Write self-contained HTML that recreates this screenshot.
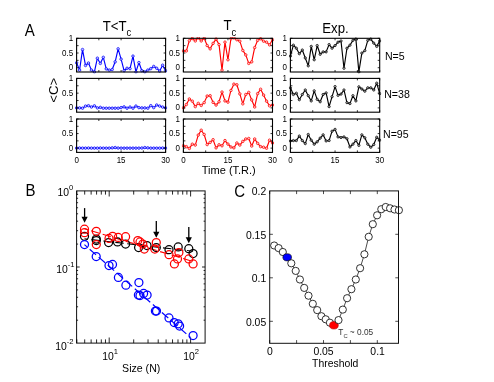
<!DOCTYPE html>
<html><head><meta charset="utf-8"><title>Figure</title>
<style>html,body{margin:0;padding:0;background:#fff}svg{display:block}</style></head>
<body>
<svg width="494" height="382" viewBox="0 0 494 382" font-family="'Liberation Sans', sans-serif" fill="#000">
<rect width="494" height="382" fill="#fff"/>
<clipPath id="c00"><rect x="75.00" y="37.00" width="92.20" height="36.50"/></clipPath>
<g clip-path="url(#c00)">
<polyline points="76.60,62.81 79.57,70.10 82.53,49.56 85.50,65.48 88.47,63.05 91.43,70.10 94.40,71.92 97.37,58.19 100.33,63.41 103.30,57.34 106.27,68.88 109.23,70.10 112.20,69.49 115.17,61.83 118.13,48.83 121.10,59.16 124.07,70.70 127.03,68.27 130.00,68.64 132.97,56.12 135.93,71.92 138.90,62.56 141.87,70.70 144.83,71.92 147.80,70.10 150.77,68.64 153.73,66.45 156.70,68.27 159.67,71.07 162.63,65.24 165.60,70.70" fill="none" stroke="#0000ff" stroke-width="1.15" stroke-linejoin="round"/>
<circle cx="76.60" cy="62.81" r="1.25" fill="#fff" fill-opacity="0.7" stroke="#0000ff" stroke-width="0.8"/>
<circle cx="79.57" cy="70.10" r="1.25" fill="#fff" fill-opacity="0.7" stroke="#0000ff" stroke-width="0.8"/>
<circle cx="82.53" cy="49.56" r="1.25" fill="#fff" fill-opacity="0.7" stroke="#0000ff" stroke-width="0.8"/>
<circle cx="85.50" cy="65.48" r="1.25" fill="#fff" fill-opacity="0.7" stroke="#0000ff" stroke-width="0.8"/>
<circle cx="88.47" cy="63.05" r="1.25" fill="#fff" fill-opacity="0.7" stroke="#0000ff" stroke-width="0.8"/>
<circle cx="91.43" cy="70.10" r="1.25" fill="#fff" fill-opacity="0.7" stroke="#0000ff" stroke-width="0.8"/>
<circle cx="94.40" cy="71.92" r="1.25" fill="#fff" fill-opacity="0.7" stroke="#0000ff" stroke-width="0.8"/>
<circle cx="97.37" cy="58.19" r="1.25" fill="#fff" fill-opacity="0.7" stroke="#0000ff" stroke-width="0.8"/>
<circle cx="100.33" cy="63.41" r="1.25" fill="#fff" fill-opacity="0.7" stroke="#0000ff" stroke-width="0.8"/>
<circle cx="103.30" cy="57.34" r="1.25" fill="#fff" fill-opacity="0.7" stroke="#0000ff" stroke-width="0.8"/>
<circle cx="106.27" cy="68.88" r="1.25" fill="#fff" fill-opacity="0.7" stroke="#0000ff" stroke-width="0.8"/>
<circle cx="109.23" cy="70.10" r="1.25" fill="#fff" fill-opacity="0.7" stroke="#0000ff" stroke-width="0.8"/>
<circle cx="112.20" cy="69.49" r="1.25" fill="#fff" fill-opacity="0.7" stroke="#0000ff" stroke-width="0.8"/>
<circle cx="115.17" cy="61.83" r="1.25" fill="#fff" fill-opacity="0.7" stroke="#0000ff" stroke-width="0.8"/>
<circle cx="118.13" cy="48.83" r="1.25" fill="#fff" fill-opacity="0.7" stroke="#0000ff" stroke-width="0.8"/>
<circle cx="121.10" cy="59.16" r="1.25" fill="#fff" fill-opacity="0.7" stroke="#0000ff" stroke-width="0.8"/>
<circle cx="124.07" cy="70.70" r="1.25" fill="#fff" fill-opacity="0.7" stroke="#0000ff" stroke-width="0.8"/>
<circle cx="127.03" cy="68.27" r="1.25" fill="#fff" fill-opacity="0.7" stroke="#0000ff" stroke-width="0.8"/>
<circle cx="130.00" cy="68.64" r="1.25" fill="#fff" fill-opacity="0.7" stroke="#0000ff" stroke-width="0.8"/>
<circle cx="132.97" cy="56.12" r="1.25" fill="#fff" fill-opacity="0.7" stroke="#0000ff" stroke-width="0.8"/>
<circle cx="135.93" cy="71.92" r="1.25" fill="#fff" fill-opacity="0.7" stroke="#0000ff" stroke-width="0.8"/>
<circle cx="138.90" cy="62.56" r="1.25" fill="#fff" fill-opacity="0.7" stroke="#0000ff" stroke-width="0.8"/>
<circle cx="141.87" cy="70.70" r="1.25" fill="#fff" fill-opacity="0.7" stroke="#0000ff" stroke-width="0.8"/>
<circle cx="144.83" cy="71.92" r="1.25" fill="#fff" fill-opacity="0.7" stroke="#0000ff" stroke-width="0.8"/>
<circle cx="147.80" cy="70.10" r="1.25" fill="#fff" fill-opacity="0.7" stroke="#0000ff" stroke-width="0.8"/>
<circle cx="150.77" cy="68.64" r="1.25" fill="#fff" fill-opacity="0.7" stroke="#0000ff" stroke-width="0.8"/>
<circle cx="153.73" cy="66.45" r="1.25" fill="#fff" fill-opacity="0.7" stroke="#0000ff" stroke-width="0.8"/>
<circle cx="156.70" cy="68.27" r="1.25" fill="#fff" fill-opacity="0.7" stroke="#0000ff" stroke-width="0.8"/>
<circle cx="159.67" cy="71.07" r="1.25" fill="#fff" fill-opacity="0.7" stroke="#0000ff" stroke-width="0.8"/>
<circle cx="162.63" cy="65.24" r="1.25" fill="#fff" fill-opacity="0.7" stroke="#0000ff" stroke-width="0.8"/>
<circle cx="165.60" cy="70.70" r="1.25" fill="#fff" fill-opacity="0.7" stroke="#0000ff" stroke-width="0.8"/>
</g>
<rect x="76.60" y="38.30" width="89.00" height="33.70" fill="none" stroke="#000" stroke-width="1.1"/>
<path d="M76.60,72.00v-2.0M76.60,38.30v2.0M98.85,72.00v-2.0M98.85,38.30v2.0M121.10,72.00v-2.0M121.10,38.30v2.0M143.35,72.00v-2.0M143.35,38.30v2.0M165.60,72.00v-2.0M165.60,38.30v2.0M76.60,67.71h2.0M165.60,67.71h-2.0M76.60,60.35h2.0M165.60,60.35h-2.0M76.60,53.00h2.0M165.60,53.00h-2.0M76.60,45.65h2.0M165.60,45.65h-2.0M76.60,38.30h2.0M165.60,38.30h-2.0" stroke="#000" stroke-width="0.8" fill="none"/>
<text transform="translate(73.20,70.31) scale(1,1.12)" font-size="8.0" text-anchor="end">0</text>
<text transform="translate(73.20,55.60) scale(1,1.12)" font-size="8.0" text-anchor="end">0.5</text>
<text transform="translate(73.20,40.90) scale(1,1.12)" font-size="8.0" text-anchor="end">1</text>
<clipPath id="c01"><rect x="181.80" y="37.00" width="92.30" height="36.50"/></clipPath>
<g clip-path="url(#c01)">
<polyline points="183.40,50.90 186.37,50.90 189.34,40.69 192.31,38.51 195.28,40.94 198.25,37.90 201.22,40.94 204.19,38.26 207.16,45.55 210.13,48.83 213.10,43.37 216.07,39.11 219.04,44.58 222.01,70.10 224.98,42.15 227.95,59.77 230.92,38.75 233.89,37.90 236.86,39.72 239.83,41.18 242.80,50.41 245.77,54.91 248.74,63.41 251.71,61.83 254.68,47.62 257.65,40.33 260.62,38.75 263.59,41.18 266.56,42.15 269.53,44.82 272.50,39.72" fill="none" stroke="#ff0000" stroke-width="1.15" stroke-linejoin="round"/>
<circle cx="183.40" cy="50.90" r="1.25" fill="#fff" fill-opacity="0.7" stroke="#ff0000" stroke-width="0.8"/>
<circle cx="186.37" cy="50.90" r="1.25" fill="#fff" fill-opacity="0.7" stroke="#ff0000" stroke-width="0.8"/>
<circle cx="189.34" cy="40.69" r="1.25" fill="#fff" fill-opacity="0.7" stroke="#ff0000" stroke-width="0.8"/>
<circle cx="192.31" cy="38.51" r="1.25" fill="#fff" fill-opacity="0.7" stroke="#ff0000" stroke-width="0.8"/>
<circle cx="195.28" cy="40.94" r="1.25" fill="#fff" fill-opacity="0.7" stroke="#ff0000" stroke-width="0.8"/>
<circle cx="198.25" cy="37.90" r="1.25" fill="#fff" fill-opacity="0.7" stroke="#ff0000" stroke-width="0.8"/>
<circle cx="201.22" cy="40.94" r="1.25" fill="#fff" fill-opacity="0.7" stroke="#ff0000" stroke-width="0.8"/>
<circle cx="204.19" cy="38.26" r="1.25" fill="#fff" fill-opacity="0.7" stroke="#ff0000" stroke-width="0.8"/>
<circle cx="207.16" cy="45.55" r="1.25" fill="#fff" fill-opacity="0.7" stroke="#ff0000" stroke-width="0.8"/>
<circle cx="210.13" cy="48.83" r="1.25" fill="#fff" fill-opacity="0.7" stroke="#ff0000" stroke-width="0.8"/>
<circle cx="213.10" cy="43.37" r="1.25" fill="#fff" fill-opacity="0.7" stroke="#ff0000" stroke-width="0.8"/>
<circle cx="216.07" cy="39.11" r="1.25" fill="#fff" fill-opacity="0.7" stroke="#ff0000" stroke-width="0.8"/>
<circle cx="219.04" cy="44.58" r="1.25" fill="#fff" fill-opacity="0.7" stroke="#ff0000" stroke-width="0.8"/>
<circle cx="222.01" cy="70.10" r="1.25" fill="#fff" fill-opacity="0.7" stroke="#ff0000" stroke-width="0.8"/>
<circle cx="224.98" cy="42.15" r="1.25" fill="#fff" fill-opacity="0.7" stroke="#ff0000" stroke-width="0.8"/>
<circle cx="227.95" cy="59.77" r="1.25" fill="#fff" fill-opacity="0.7" stroke="#ff0000" stroke-width="0.8"/>
<circle cx="230.92" cy="38.75" r="1.25" fill="#fff" fill-opacity="0.7" stroke="#ff0000" stroke-width="0.8"/>
<circle cx="233.89" cy="37.90" r="1.25" fill="#fff" fill-opacity="0.7" stroke="#ff0000" stroke-width="0.8"/>
<circle cx="236.86" cy="39.72" r="1.25" fill="#fff" fill-opacity="0.7" stroke="#ff0000" stroke-width="0.8"/>
<circle cx="239.83" cy="41.18" r="1.25" fill="#fff" fill-opacity="0.7" stroke="#ff0000" stroke-width="0.8"/>
<circle cx="242.80" cy="50.41" r="1.25" fill="#fff" fill-opacity="0.7" stroke="#ff0000" stroke-width="0.8"/>
<circle cx="245.77" cy="54.91" r="1.25" fill="#fff" fill-opacity="0.7" stroke="#ff0000" stroke-width="0.8"/>
<circle cx="248.74" cy="63.41" r="1.25" fill="#fff" fill-opacity="0.7" stroke="#ff0000" stroke-width="0.8"/>
<circle cx="251.71" cy="61.83" r="1.25" fill="#fff" fill-opacity="0.7" stroke="#ff0000" stroke-width="0.8"/>
<circle cx="254.68" cy="47.62" r="1.25" fill="#fff" fill-opacity="0.7" stroke="#ff0000" stroke-width="0.8"/>
<circle cx="257.65" cy="40.33" r="1.25" fill="#fff" fill-opacity="0.7" stroke="#ff0000" stroke-width="0.8"/>
<circle cx="260.62" cy="38.75" r="1.25" fill="#fff" fill-opacity="0.7" stroke="#ff0000" stroke-width="0.8"/>
<circle cx="263.59" cy="41.18" r="1.25" fill="#fff" fill-opacity="0.7" stroke="#ff0000" stroke-width="0.8"/>
<circle cx="266.56" cy="42.15" r="1.25" fill="#fff" fill-opacity="0.7" stroke="#ff0000" stroke-width="0.8"/>
<circle cx="269.53" cy="44.82" r="1.25" fill="#fff" fill-opacity="0.7" stroke="#ff0000" stroke-width="0.8"/>
<circle cx="272.50" cy="39.72" r="1.25" fill="#fff" fill-opacity="0.7" stroke="#ff0000" stroke-width="0.8"/>
</g>
<rect x="183.40" y="38.30" width="89.10" height="33.70" fill="none" stroke="#000" stroke-width="1.1"/>
<path d="M183.40,72.00v-2.0M183.40,38.30v2.0M205.68,72.00v-2.0M205.68,38.30v2.0M227.95,72.00v-2.0M227.95,38.30v2.0M250.22,72.00v-2.0M250.22,38.30v2.0M272.50,72.00v-2.0M272.50,38.30v2.0M183.40,67.71h2.0M272.50,67.71h-2.0M183.40,60.35h2.0M272.50,60.35h-2.0M183.40,53.00h2.0M272.50,53.00h-2.0M183.40,45.65h2.0M272.50,45.65h-2.0M183.40,38.30h2.0M272.50,38.30h-2.0" stroke="#000" stroke-width="0.8" fill="none"/>
<text transform="translate(180.00,70.31) scale(1,1.12)" font-size="8.0" text-anchor="end">0</text>
<text transform="translate(180.00,55.60) scale(1,1.12)" font-size="8.0" text-anchor="end">0.5</text>
<text transform="translate(180.00,40.90) scale(1,1.12)" font-size="8.0" text-anchor="end">1</text>
<clipPath id="c02"><rect x="288.80" y="37.00" width="92.50" height="36.50"/></clipPath>
<g clip-path="url(#c02)">
<polyline points="290.40,56.12 293.38,45.19 296.35,48.23 299.33,53.69 302.31,50.05 305.28,57.95 308.26,65.84 311.24,46.40 314.21,59.77 317.19,45.55 320.17,54.30 323.14,51.87 326.12,51.87 329.10,44.58 332.07,48.23 335.05,45.55 338.03,42.15 341.00,40.94 343.98,68.27 346.96,48.23 349.93,45.19 352.91,40.33 355.89,39.11 358.86,71.92 361.84,53.09 364.82,50.66 367.79,40.33 370.77,39.11 373.75,43.12 376.72,46.40 379.70,40.94" fill="none" stroke="#000000" stroke-width="1.15" stroke-linejoin="round"/>
<circle cx="290.40" cy="56.12" r="1.15" fill="#fff" fill-opacity="0.55" stroke="#000000" stroke-width="0.8"/>
<circle cx="293.38" cy="45.19" r="1.15" fill="#fff" fill-opacity="0.55" stroke="#000000" stroke-width="0.8"/>
<circle cx="296.35" cy="48.23" r="1.15" fill="#fff" fill-opacity="0.55" stroke="#000000" stroke-width="0.8"/>
<circle cx="299.33" cy="53.69" r="1.15" fill="#fff" fill-opacity="0.55" stroke="#000000" stroke-width="0.8"/>
<circle cx="302.31" cy="50.05" r="1.15" fill="#fff" fill-opacity="0.55" stroke="#000000" stroke-width="0.8"/>
<circle cx="305.28" cy="57.95" r="1.15" fill="#fff" fill-opacity="0.55" stroke="#000000" stroke-width="0.8"/>
<circle cx="308.26" cy="65.84" r="1.15" fill="#fff" fill-opacity="0.55" stroke="#000000" stroke-width="0.8"/>
<circle cx="311.24" cy="46.40" r="1.15" fill="#fff" fill-opacity="0.55" stroke="#000000" stroke-width="0.8"/>
<circle cx="314.21" cy="59.77" r="1.15" fill="#fff" fill-opacity="0.55" stroke="#000000" stroke-width="0.8"/>
<circle cx="317.19" cy="45.55" r="1.15" fill="#fff" fill-opacity="0.55" stroke="#000000" stroke-width="0.8"/>
<circle cx="320.17" cy="54.30" r="1.15" fill="#fff" fill-opacity="0.55" stroke="#000000" stroke-width="0.8"/>
<circle cx="323.14" cy="51.87" r="1.15" fill="#fff" fill-opacity="0.55" stroke="#000000" stroke-width="0.8"/>
<circle cx="326.12" cy="51.87" r="1.15" fill="#fff" fill-opacity="0.55" stroke="#000000" stroke-width="0.8"/>
<circle cx="329.10" cy="44.58" r="1.15" fill="#fff" fill-opacity="0.55" stroke="#000000" stroke-width="0.8"/>
<circle cx="332.07" cy="48.23" r="1.15" fill="#fff" fill-opacity="0.55" stroke="#000000" stroke-width="0.8"/>
<circle cx="335.05" cy="45.55" r="1.15" fill="#fff" fill-opacity="0.55" stroke="#000000" stroke-width="0.8"/>
<circle cx="338.03" cy="42.15" r="1.15" fill="#fff" fill-opacity="0.55" stroke="#000000" stroke-width="0.8"/>
<circle cx="341.00" cy="40.94" r="1.15" fill="#fff" fill-opacity="0.55" stroke="#000000" stroke-width="0.8"/>
<circle cx="343.98" cy="68.27" r="1.15" fill="#fff" fill-opacity="0.55" stroke="#000000" stroke-width="0.8"/>
<circle cx="346.96" cy="48.23" r="1.15" fill="#fff" fill-opacity="0.55" stroke="#000000" stroke-width="0.8"/>
<circle cx="349.93" cy="45.19" r="1.15" fill="#fff" fill-opacity="0.55" stroke="#000000" stroke-width="0.8"/>
<circle cx="352.91" cy="40.33" r="1.15" fill="#fff" fill-opacity="0.55" stroke="#000000" stroke-width="0.8"/>
<circle cx="355.89" cy="39.11" r="1.15" fill="#fff" fill-opacity="0.55" stroke="#000000" stroke-width="0.8"/>
<circle cx="358.86" cy="71.92" r="1.15" fill="#fff" fill-opacity="0.55" stroke="#000000" stroke-width="0.8"/>
<circle cx="361.84" cy="53.09" r="1.15" fill="#fff" fill-opacity="0.55" stroke="#000000" stroke-width="0.8"/>
<circle cx="364.82" cy="50.66" r="1.15" fill="#fff" fill-opacity="0.55" stroke="#000000" stroke-width="0.8"/>
<circle cx="367.79" cy="40.33" r="1.15" fill="#fff" fill-opacity="0.55" stroke="#000000" stroke-width="0.8"/>
<circle cx="370.77" cy="39.11" r="1.15" fill="#fff" fill-opacity="0.55" stroke="#000000" stroke-width="0.8"/>
<circle cx="373.75" cy="43.12" r="1.15" fill="#fff" fill-opacity="0.55" stroke="#000000" stroke-width="0.8"/>
<circle cx="376.72" cy="46.40" r="1.15" fill="#fff" fill-opacity="0.55" stroke="#000000" stroke-width="0.8"/>
<circle cx="379.70" cy="40.94" r="1.15" fill="#fff" fill-opacity="0.55" stroke="#000000" stroke-width="0.8"/>
</g>
<rect x="290.40" y="38.30" width="89.30" height="33.70" fill="none" stroke="#000" stroke-width="1.1"/>
<path d="M290.40,72.00v-2.0M290.40,38.30v2.0M312.72,72.00v-2.0M312.72,38.30v2.0M335.05,72.00v-2.0M335.05,38.30v2.0M357.38,72.00v-2.0M357.38,38.30v2.0M379.70,72.00v-2.0M379.70,38.30v2.0M290.40,67.71h2.0M379.70,67.71h-2.0M290.40,60.35h2.0M379.70,60.35h-2.0M290.40,53.00h2.0M379.70,53.00h-2.0M290.40,45.65h2.0M379.70,45.65h-2.0M290.40,38.30h2.0M379.70,38.30h-2.0" stroke="#000" stroke-width="0.8" fill="none"/>
<text transform="translate(287.00,70.31) scale(1,1.12)" font-size="8.0" text-anchor="end">0</text>
<text transform="translate(287.00,55.60) scale(1,1.12)" font-size="8.0" text-anchor="end">0.5</text>
<text transform="translate(287.00,40.90) scale(1,1.12)" font-size="8.0" text-anchor="end">1</text>
<clipPath id="c10"><rect x="75.00" y="77.10" width="92.20" height="36.60"/></clipPath>
<g clip-path="url(#c10)">
<polyline points="76.60,107.89 79.57,107.89 82.53,108.19 85.50,106.13 88.47,105.69 91.43,107.01 94.40,105.84 97.37,107.89 100.33,107.39 103.30,108.19 106.27,108.19 109.23,108.19 112.20,108.19 115.17,108.19 118.13,108.19 121.10,107.60 124.07,106.89 127.03,108.19 130.00,107.07 132.97,108.19 135.93,106.07 138.90,107.60 141.87,107.89 144.83,107.89 147.80,108.19 150.77,105.66 153.73,107.60 156.70,105.04 159.67,106.07 162.63,107.07 165.60,107.89" fill="none" stroke="#0000ff" stroke-width="1.15" stroke-linejoin="round"/>
<circle cx="76.60" cy="107.89" r="1.25" fill="#fff" fill-opacity="0.7" stroke="#0000ff" stroke-width="0.8"/>
<circle cx="79.57" cy="107.89" r="1.25" fill="#fff" fill-opacity="0.7" stroke="#0000ff" stroke-width="0.8"/>
<circle cx="82.53" cy="108.19" r="1.25" fill="#fff" fill-opacity="0.7" stroke="#0000ff" stroke-width="0.8"/>
<circle cx="85.50" cy="106.13" r="1.25" fill="#fff" fill-opacity="0.7" stroke="#0000ff" stroke-width="0.8"/>
<circle cx="88.47" cy="105.69" r="1.25" fill="#fff" fill-opacity="0.7" stroke="#0000ff" stroke-width="0.8"/>
<circle cx="91.43" cy="107.01" r="1.25" fill="#fff" fill-opacity="0.7" stroke="#0000ff" stroke-width="0.8"/>
<circle cx="94.40" cy="105.84" r="1.25" fill="#fff" fill-opacity="0.7" stroke="#0000ff" stroke-width="0.8"/>
<circle cx="97.37" cy="107.89" r="1.25" fill="#fff" fill-opacity="0.7" stroke="#0000ff" stroke-width="0.8"/>
<circle cx="100.33" cy="107.39" r="1.25" fill="#fff" fill-opacity="0.7" stroke="#0000ff" stroke-width="0.8"/>
<circle cx="103.30" cy="108.19" r="1.25" fill="#fff" fill-opacity="0.7" stroke="#0000ff" stroke-width="0.8"/>
<circle cx="106.27" cy="108.19" r="1.25" fill="#fff" fill-opacity="0.7" stroke="#0000ff" stroke-width="0.8"/>
<circle cx="109.23" cy="108.19" r="1.25" fill="#fff" fill-opacity="0.7" stroke="#0000ff" stroke-width="0.8"/>
<circle cx="112.20" cy="108.19" r="1.25" fill="#fff" fill-opacity="0.7" stroke="#0000ff" stroke-width="0.8"/>
<circle cx="115.17" cy="108.19" r="1.25" fill="#fff" fill-opacity="0.7" stroke="#0000ff" stroke-width="0.8"/>
<circle cx="118.13" cy="108.19" r="1.25" fill="#fff" fill-opacity="0.7" stroke="#0000ff" stroke-width="0.8"/>
<circle cx="121.10" cy="107.60" r="1.25" fill="#fff" fill-opacity="0.7" stroke="#0000ff" stroke-width="0.8"/>
<circle cx="124.07" cy="106.89" r="1.25" fill="#fff" fill-opacity="0.7" stroke="#0000ff" stroke-width="0.8"/>
<circle cx="127.03" cy="108.19" r="1.25" fill="#fff" fill-opacity="0.7" stroke="#0000ff" stroke-width="0.8"/>
<circle cx="130.00" cy="107.07" r="1.25" fill="#fff" fill-opacity="0.7" stroke="#0000ff" stroke-width="0.8"/>
<circle cx="132.97" cy="108.19" r="1.25" fill="#fff" fill-opacity="0.7" stroke="#0000ff" stroke-width="0.8"/>
<circle cx="135.93" cy="106.07" r="1.25" fill="#fff" fill-opacity="0.7" stroke="#0000ff" stroke-width="0.8"/>
<circle cx="138.90" cy="107.60" r="1.25" fill="#fff" fill-opacity="0.7" stroke="#0000ff" stroke-width="0.8"/>
<circle cx="141.87" cy="107.89" r="1.25" fill="#fff" fill-opacity="0.7" stroke="#0000ff" stroke-width="0.8"/>
<circle cx="144.83" cy="107.89" r="1.25" fill="#fff" fill-opacity="0.7" stroke="#0000ff" stroke-width="0.8"/>
<circle cx="147.80" cy="108.19" r="1.25" fill="#fff" fill-opacity="0.7" stroke="#0000ff" stroke-width="0.8"/>
<circle cx="150.77" cy="105.66" r="1.25" fill="#fff" fill-opacity="0.7" stroke="#0000ff" stroke-width="0.8"/>
<circle cx="153.73" cy="107.60" r="1.25" fill="#fff" fill-opacity="0.7" stroke="#0000ff" stroke-width="0.8"/>
<circle cx="156.70" cy="105.04" r="1.25" fill="#fff" fill-opacity="0.7" stroke="#0000ff" stroke-width="0.8"/>
<circle cx="159.67" cy="106.07" r="1.25" fill="#fff" fill-opacity="0.7" stroke="#0000ff" stroke-width="0.8"/>
<circle cx="162.63" cy="107.07" r="1.25" fill="#fff" fill-opacity="0.7" stroke="#0000ff" stroke-width="0.8"/>
<circle cx="165.60" cy="107.89" r="1.25" fill="#fff" fill-opacity="0.7" stroke="#0000ff" stroke-width="0.8"/>
</g>
<rect x="76.60" y="78.40" width="89.00" height="33.80" fill="none" stroke="#000" stroke-width="1.1"/>
<path d="M76.60,112.20v-2.0M76.60,78.40v2.0M98.85,112.20v-2.0M98.85,78.40v2.0M121.10,112.20v-2.0M121.10,78.40v2.0M143.35,112.20v-2.0M143.35,78.40v2.0M165.60,112.20v-2.0M165.60,78.40v2.0M76.60,107.89h2.0M165.60,107.89h-2.0M76.60,100.52h2.0M165.60,100.52h-2.0M76.60,93.15h2.0M165.60,93.15h-2.0M76.60,85.77h2.0M165.60,85.77h-2.0M76.60,78.40h2.0M165.60,78.40h-2.0" stroke="#000" stroke-width="0.8" fill="none"/>
<text transform="translate(73.20,110.49) scale(1,1.12)" font-size="8.0" text-anchor="end">0</text>
<text transform="translate(73.20,95.75) scale(1,1.12)" font-size="8.0" text-anchor="end">0.5</text>
<text transform="translate(73.20,81.00) scale(1,1.12)" font-size="8.0" text-anchor="end">1</text>
<clipPath id="c11"><rect x="181.80" y="77.10" width="92.30" height="36.60"/></clipPath>
<g clip-path="url(#c11)">
<polyline points="183.40,107.84 186.37,104.56 189.34,98.97 192.31,101.16 195.28,106.63 198.25,103.35 201.22,105.41 204.19,102.62 207.16,96.06 210.13,95.69 213.10,102.38 216.07,105.05 219.04,101.77 222.01,92.05 224.98,100.92 227.95,102.13 230.92,90.47 233.89,84.15 236.86,84.76 239.83,93.87 242.80,103.83 245.77,94.48 248.74,92.41 251.71,99.95 254.68,106.99 257.65,93.63 260.62,89.25 263.59,95.09 266.56,101.16 269.53,105.78 272.50,105.05" fill="none" stroke="#ff0000" stroke-width="1.15" stroke-linejoin="round"/>
<circle cx="183.40" cy="107.84" r="1.25" fill="#fff" fill-opacity="0.7" stroke="#ff0000" stroke-width="0.8"/>
<circle cx="186.37" cy="104.56" r="1.25" fill="#fff" fill-opacity="0.7" stroke="#ff0000" stroke-width="0.8"/>
<circle cx="189.34" cy="98.97" r="1.25" fill="#fff" fill-opacity="0.7" stroke="#ff0000" stroke-width="0.8"/>
<circle cx="192.31" cy="101.16" r="1.25" fill="#fff" fill-opacity="0.7" stroke="#ff0000" stroke-width="0.8"/>
<circle cx="195.28" cy="106.63" r="1.25" fill="#fff" fill-opacity="0.7" stroke="#ff0000" stroke-width="0.8"/>
<circle cx="198.25" cy="103.35" r="1.25" fill="#fff" fill-opacity="0.7" stroke="#ff0000" stroke-width="0.8"/>
<circle cx="201.22" cy="105.41" r="1.25" fill="#fff" fill-opacity="0.7" stroke="#ff0000" stroke-width="0.8"/>
<circle cx="204.19" cy="102.62" r="1.25" fill="#fff" fill-opacity="0.7" stroke="#ff0000" stroke-width="0.8"/>
<circle cx="207.16" cy="96.06" r="1.25" fill="#fff" fill-opacity="0.7" stroke="#ff0000" stroke-width="0.8"/>
<circle cx="210.13" cy="95.69" r="1.25" fill="#fff" fill-opacity="0.7" stroke="#ff0000" stroke-width="0.8"/>
<circle cx="213.10" cy="102.38" r="1.25" fill="#fff" fill-opacity="0.7" stroke="#ff0000" stroke-width="0.8"/>
<circle cx="216.07" cy="105.05" r="1.25" fill="#fff" fill-opacity="0.7" stroke="#ff0000" stroke-width="0.8"/>
<circle cx="219.04" cy="101.77" r="1.25" fill="#fff" fill-opacity="0.7" stroke="#ff0000" stroke-width="0.8"/>
<circle cx="222.01" cy="92.05" r="1.25" fill="#fff" fill-opacity="0.7" stroke="#ff0000" stroke-width="0.8"/>
<circle cx="224.98" cy="100.92" r="1.25" fill="#fff" fill-opacity="0.7" stroke="#ff0000" stroke-width="0.8"/>
<circle cx="227.95" cy="102.13" r="1.25" fill="#fff" fill-opacity="0.7" stroke="#ff0000" stroke-width="0.8"/>
<circle cx="230.92" cy="90.47" r="1.25" fill="#fff" fill-opacity="0.7" stroke="#ff0000" stroke-width="0.8"/>
<circle cx="233.89" cy="84.15" r="1.25" fill="#fff" fill-opacity="0.7" stroke="#ff0000" stroke-width="0.8"/>
<circle cx="236.86" cy="84.76" r="1.25" fill="#fff" fill-opacity="0.7" stroke="#ff0000" stroke-width="0.8"/>
<circle cx="239.83" cy="93.87" r="1.25" fill="#fff" fill-opacity="0.7" stroke="#ff0000" stroke-width="0.8"/>
<circle cx="242.80" cy="103.83" r="1.25" fill="#fff" fill-opacity="0.7" stroke="#ff0000" stroke-width="0.8"/>
<circle cx="245.77" cy="94.48" r="1.25" fill="#fff" fill-opacity="0.7" stroke="#ff0000" stroke-width="0.8"/>
<circle cx="248.74" cy="92.41" r="1.25" fill="#fff" fill-opacity="0.7" stroke="#ff0000" stroke-width="0.8"/>
<circle cx="251.71" cy="99.95" r="1.25" fill="#fff" fill-opacity="0.7" stroke="#ff0000" stroke-width="0.8"/>
<circle cx="254.68" cy="106.99" r="1.25" fill="#fff" fill-opacity="0.7" stroke="#ff0000" stroke-width="0.8"/>
<circle cx="257.65" cy="93.63" r="1.25" fill="#fff" fill-opacity="0.7" stroke="#ff0000" stroke-width="0.8"/>
<circle cx="260.62" cy="89.25" r="1.25" fill="#fff" fill-opacity="0.7" stroke="#ff0000" stroke-width="0.8"/>
<circle cx="263.59" cy="95.09" r="1.25" fill="#fff" fill-opacity="0.7" stroke="#ff0000" stroke-width="0.8"/>
<circle cx="266.56" cy="101.16" r="1.25" fill="#fff" fill-opacity="0.7" stroke="#ff0000" stroke-width="0.8"/>
<circle cx="269.53" cy="105.78" r="1.25" fill="#fff" fill-opacity="0.7" stroke="#ff0000" stroke-width="0.8"/>
<circle cx="272.50" cy="105.05" r="1.25" fill="#fff" fill-opacity="0.7" stroke="#ff0000" stroke-width="0.8"/>
</g>
<rect x="183.40" y="78.40" width="89.10" height="33.80" fill="none" stroke="#000" stroke-width="1.1"/>
<path d="M183.40,112.20v-2.0M183.40,78.40v2.0M205.68,112.20v-2.0M205.68,78.40v2.0M227.95,112.20v-2.0M227.95,78.40v2.0M250.22,112.20v-2.0M250.22,78.40v2.0M272.50,112.20v-2.0M272.50,78.40v2.0M183.40,107.89h2.0M272.50,107.89h-2.0M183.40,100.52h2.0M272.50,100.52h-2.0M183.40,93.15h2.0M272.50,93.15h-2.0M183.40,85.77h2.0M272.50,85.77h-2.0M183.40,78.40h2.0M272.50,78.40h-2.0" stroke="#000" stroke-width="0.8" fill="none"/>
<text transform="translate(180.00,110.49) scale(1,1.12)" font-size="8.0" text-anchor="end">0</text>
<text transform="translate(180.00,95.75) scale(1,1.12)" font-size="8.0" text-anchor="end">0.5</text>
<text transform="translate(180.00,81.00) scale(1,1.12)" font-size="8.0" text-anchor="end">1</text>
<clipPath id="c12"><rect x="288.80" y="77.10" width="92.50" height="36.60"/></clipPath>
<g clip-path="url(#c12)">
<polyline points="290.40,87.80 293.38,94.48 296.35,93.26 299.33,99.70 302.31,94.48 305.28,89.98 308.26,95.69 311.24,100.92 314.21,90.83 317.19,99.34 320.17,101.77 323.14,94.48 326.12,92.90 329.10,106.63 332.07,96.67 335.05,86.58 338.03,95.33 341.00,94.11 343.98,89.98 346.96,102.62 349.93,103.59 352.91,95.69 355.89,100.92 358.86,86.82 361.84,89.01 364.82,91.20 367.79,87.80 370.77,87.80 373.75,89.98 376.72,83.18 379.70,93.63" fill="none" stroke="#000000" stroke-width="1.15" stroke-linejoin="round"/>
<circle cx="290.40" cy="87.80" r="1.15" fill="#fff" fill-opacity="0.55" stroke="#000000" stroke-width="0.8"/>
<circle cx="293.38" cy="94.48" r="1.15" fill="#fff" fill-opacity="0.55" stroke="#000000" stroke-width="0.8"/>
<circle cx="296.35" cy="93.26" r="1.15" fill="#fff" fill-opacity="0.55" stroke="#000000" stroke-width="0.8"/>
<circle cx="299.33" cy="99.70" r="1.15" fill="#fff" fill-opacity="0.55" stroke="#000000" stroke-width="0.8"/>
<circle cx="302.31" cy="94.48" r="1.15" fill="#fff" fill-opacity="0.55" stroke="#000000" stroke-width="0.8"/>
<circle cx="305.28" cy="89.98" r="1.15" fill="#fff" fill-opacity="0.55" stroke="#000000" stroke-width="0.8"/>
<circle cx="308.26" cy="95.69" r="1.15" fill="#fff" fill-opacity="0.55" stroke="#000000" stroke-width="0.8"/>
<circle cx="311.24" cy="100.92" r="1.15" fill="#fff" fill-opacity="0.55" stroke="#000000" stroke-width="0.8"/>
<circle cx="314.21" cy="90.83" r="1.15" fill="#fff" fill-opacity="0.55" stroke="#000000" stroke-width="0.8"/>
<circle cx="317.19" cy="99.34" r="1.15" fill="#fff" fill-opacity="0.55" stroke="#000000" stroke-width="0.8"/>
<circle cx="320.17" cy="101.77" r="1.15" fill="#fff" fill-opacity="0.55" stroke="#000000" stroke-width="0.8"/>
<circle cx="323.14" cy="94.48" r="1.15" fill="#fff" fill-opacity="0.55" stroke="#000000" stroke-width="0.8"/>
<circle cx="326.12" cy="92.90" r="1.15" fill="#fff" fill-opacity="0.55" stroke="#000000" stroke-width="0.8"/>
<circle cx="329.10" cy="106.63" r="1.15" fill="#fff" fill-opacity="0.55" stroke="#000000" stroke-width="0.8"/>
<circle cx="332.07" cy="96.67" r="1.15" fill="#fff" fill-opacity="0.55" stroke="#000000" stroke-width="0.8"/>
<circle cx="335.05" cy="86.58" r="1.15" fill="#fff" fill-opacity="0.55" stroke="#000000" stroke-width="0.8"/>
<circle cx="338.03" cy="95.33" r="1.15" fill="#fff" fill-opacity="0.55" stroke="#000000" stroke-width="0.8"/>
<circle cx="341.00" cy="94.11" r="1.15" fill="#fff" fill-opacity="0.55" stroke="#000000" stroke-width="0.8"/>
<circle cx="343.98" cy="89.98" r="1.15" fill="#fff" fill-opacity="0.55" stroke="#000000" stroke-width="0.8"/>
<circle cx="346.96" cy="102.62" r="1.15" fill="#fff" fill-opacity="0.55" stroke="#000000" stroke-width="0.8"/>
<circle cx="349.93" cy="103.59" r="1.15" fill="#fff" fill-opacity="0.55" stroke="#000000" stroke-width="0.8"/>
<circle cx="352.91" cy="95.69" r="1.15" fill="#fff" fill-opacity="0.55" stroke="#000000" stroke-width="0.8"/>
<circle cx="355.89" cy="100.92" r="1.15" fill="#fff" fill-opacity="0.55" stroke="#000000" stroke-width="0.8"/>
<circle cx="358.86" cy="86.82" r="1.15" fill="#fff" fill-opacity="0.55" stroke="#000000" stroke-width="0.8"/>
<circle cx="361.84" cy="89.01" r="1.15" fill="#fff" fill-opacity="0.55" stroke="#000000" stroke-width="0.8"/>
<circle cx="364.82" cy="91.20" r="1.15" fill="#fff" fill-opacity="0.55" stroke="#000000" stroke-width="0.8"/>
<circle cx="367.79" cy="87.80" r="1.15" fill="#fff" fill-opacity="0.55" stroke="#000000" stroke-width="0.8"/>
<circle cx="370.77" cy="87.80" r="1.15" fill="#fff" fill-opacity="0.55" stroke="#000000" stroke-width="0.8"/>
<circle cx="373.75" cy="89.98" r="1.15" fill="#fff" fill-opacity="0.55" stroke="#000000" stroke-width="0.8"/>
<circle cx="376.72" cy="83.18" r="1.15" fill="#fff" fill-opacity="0.55" stroke="#000000" stroke-width="0.8"/>
<circle cx="379.70" cy="93.63" r="1.15" fill="#fff" fill-opacity="0.55" stroke="#000000" stroke-width="0.8"/>
</g>
<rect x="290.40" y="78.40" width="89.30" height="33.80" fill="none" stroke="#000" stroke-width="1.1"/>
<path d="M290.40,112.20v-2.0M290.40,78.40v2.0M312.72,112.20v-2.0M312.72,78.40v2.0M335.05,112.20v-2.0M335.05,78.40v2.0M357.38,112.20v-2.0M357.38,78.40v2.0M379.70,112.20v-2.0M379.70,78.40v2.0M290.40,107.89h2.0M379.70,107.89h-2.0M290.40,100.52h2.0M379.70,100.52h-2.0M290.40,93.15h2.0M379.70,93.15h-2.0M290.40,85.77h2.0M379.70,85.77h-2.0M290.40,78.40h2.0M379.70,78.40h-2.0" stroke="#000" stroke-width="0.8" fill="none"/>
<text transform="translate(287.00,110.49) scale(1,1.12)" font-size="8.0" text-anchor="end">0</text>
<text transform="translate(287.00,95.75) scale(1,1.12)" font-size="8.0" text-anchor="end">0.5</text>
<text transform="translate(287.00,81.00) scale(1,1.12)" font-size="8.0" text-anchor="end">1</text>
<clipPath id="c20"><rect x="75.00" y="117.70" width="92.20" height="36.20"/></clipPath>
<g clip-path="url(#c20)">
<polyline points="76.60,148.14 79.57,148.00 82.53,148.14 85.50,148.14 88.47,148.00 91.43,148.14 94.40,148.14 97.37,148.14 100.33,148.00 103.30,148.14 106.27,148.14 109.23,148.14 112.20,147.85 115.17,147.56 118.13,148.00 121.10,148.14 124.07,148.14 127.03,148.14 130.00,148.14 132.97,148.14 135.93,148.14 138.90,148.14 141.87,148.00 144.83,147.56 147.80,147.85 150.77,148.14 153.73,148.14 156.70,148.14 159.67,148.14 162.63,148.00 165.60,148.14" fill="none" stroke="#0000ff" stroke-width="1.15" stroke-linejoin="round"/>
<circle cx="76.60" cy="148.14" r="1.25" fill="#fff" fill-opacity="0.7" stroke="#0000ff" stroke-width="0.8"/>
<circle cx="79.57" cy="148.00" r="1.25" fill="#fff" fill-opacity="0.7" stroke="#0000ff" stroke-width="0.8"/>
<circle cx="82.53" cy="148.14" r="1.25" fill="#fff" fill-opacity="0.7" stroke="#0000ff" stroke-width="0.8"/>
<circle cx="85.50" cy="148.14" r="1.25" fill="#fff" fill-opacity="0.7" stroke="#0000ff" stroke-width="0.8"/>
<circle cx="88.47" cy="148.00" r="1.25" fill="#fff" fill-opacity="0.7" stroke="#0000ff" stroke-width="0.8"/>
<circle cx="91.43" cy="148.14" r="1.25" fill="#fff" fill-opacity="0.7" stroke="#0000ff" stroke-width="0.8"/>
<circle cx="94.40" cy="148.14" r="1.25" fill="#fff" fill-opacity="0.7" stroke="#0000ff" stroke-width="0.8"/>
<circle cx="97.37" cy="148.14" r="1.25" fill="#fff" fill-opacity="0.7" stroke="#0000ff" stroke-width="0.8"/>
<circle cx="100.33" cy="148.00" r="1.25" fill="#fff" fill-opacity="0.7" stroke="#0000ff" stroke-width="0.8"/>
<circle cx="103.30" cy="148.14" r="1.25" fill="#fff" fill-opacity="0.7" stroke="#0000ff" stroke-width="0.8"/>
<circle cx="106.27" cy="148.14" r="1.25" fill="#fff" fill-opacity="0.7" stroke="#0000ff" stroke-width="0.8"/>
<circle cx="109.23" cy="148.14" r="1.25" fill="#fff" fill-opacity="0.7" stroke="#0000ff" stroke-width="0.8"/>
<circle cx="112.20" cy="147.85" r="1.25" fill="#fff" fill-opacity="0.7" stroke="#0000ff" stroke-width="0.8"/>
<circle cx="115.17" cy="147.56" r="1.25" fill="#fff" fill-opacity="0.7" stroke="#0000ff" stroke-width="0.8"/>
<circle cx="118.13" cy="148.00" r="1.25" fill="#fff" fill-opacity="0.7" stroke="#0000ff" stroke-width="0.8"/>
<circle cx="121.10" cy="148.14" r="1.25" fill="#fff" fill-opacity="0.7" stroke="#0000ff" stroke-width="0.8"/>
<circle cx="124.07" cy="148.14" r="1.25" fill="#fff" fill-opacity="0.7" stroke="#0000ff" stroke-width="0.8"/>
<circle cx="127.03" cy="148.14" r="1.25" fill="#fff" fill-opacity="0.7" stroke="#0000ff" stroke-width="0.8"/>
<circle cx="130.00" cy="148.14" r="1.25" fill="#fff" fill-opacity="0.7" stroke="#0000ff" stroke-width="0.8"/>
<circle cx="132.97" cy="148.14" r="1.25" fill="#fff" fill-opacity="0.7" stroke="#0000ff" stroke-width="0.8"/>
<circle cx="135.93" cy="148.14" r="1.25" fill="#fff" fill-opacity="0.7" stroke="#0000ff" stroke-width="0.8"/>
<circle cx="138.90" cy="148.14" r="1.25" fill="#fff" fill-opacity="0.7" stroke="#0000ff" stroke-width="0.8"/>
<circle cx="141.87" cy="148.00" r="1.25" fill="#fff" fill-opacity="0.7" stroke="#0000ff" stroke-width="0.8"/>
<circle cx="144.83" cy="147.56" r="1.25" fill="#fff" fill-opacity="0.7" stroke="#0000ff" stroke-width="0.8"/>
<circle cx="147.80" cy="147.85" r="1.25" fill="#fff" fill-opacity="0.7" stroke="#0000ff" stroke-width="0.8"/>
<circle cx="150.77" cy="148.14" r="1.25" fill="#fff" fill-opacity="0.7" stroke="#0000ff" stroke-width="0.8"/>
<circle cx="153.73" cy="148.14" r="1.25" fill="#fff" fill-opacity="0.7" stroke="#0000ff" stroke-width="0.8"/>
<circle cx="156.70" cy="148.14" r="1.25" fill="#fff" fill-opacity="0.7" stroke="#0000ff" stroke-width="0.8"/>
<circle cx="159.67" cy="148.14" r="1.25" fill="#fff" fill-opacity="0.7" stroke="#0000ff" stroke-width="0.8"/>
<circle cx="162.63" cy="148.00" r="1.25" fill="#fff" fill-opacity="0.7" stroke="#0000ff" stroke-width="0.8"/>
<circle cx="165.60" cy="148.14" r="1.25" fill="#fff" fill-opacity="0.7" stroke="#0000ff" stroke-width="0.8"/>
</g>
<rect x="76.60" y="119.00" width="89.00" height="33.40" fill="none" stroke="#000" stroke-width="1.1"/>
<path d="M76.60,152.40v-2.0M76.60,119.00v2.0M98.85,152.40v-2.0M98.85,119.00v2.0M121.10,152.40v-2.0M121.10,119.00v2.0M143.35,152.40v-2.0M143.35,119.00v2.0M165.60,152.40v-2.0M165.60,119.00v2.0M76.60,148.14h2.0M165.60,148.14h-2.0M76.60,140.86h2.0M165.60,140.86h-2.0M76.60,133.57h2.0M165.60,133.57h-2.0M76.60,126.29h2.0M165.60,126.29h-2.0M76.60,119.00h2.0M165.60,119.00h-2.0" stroke="#000" stroke-width="0.8" fill="none"/>
<text transform="translate(73.20,150.74) scale(1,1.12)" font-size="8.0" text-anchor="end">0</text>
<text transform="translate(73.20,136.17) scale(1,1.12)" font-size="8.0" text-anchor="end">0.5</text>
<text transform="translate(73.20,121.60) scale(1,1.12)" font-size="8.0" text-anchor="end">1</text>
<text transform="translate(76.60,162.8) scale(1,1.1)" font-size="8.0" text-anchor="middle">0</text>
<text transform="translate(121.10,162.8) scale(1,1.1)" font-size="8.0" text-anchor="middle">15</text>
<text transform="translate(165.60,162.8) scale(1,1.1)" font-size="8.0" text-anchor="middle">30</text>
<clipPath id="c21"><rect x="181.80" y="117.70" width="92.30" height="36.20"/></clipPath>
<g clip-path="url(#c21)">
<polyline points="183.40,145.78 186.37,146.63 189.34,148.45 192.31,144.20 195.28,145.05 198.25,135.09 201.22,130.23 204.19,134.48 207.16,144.56 210.13,142.38 213.10,139.70 216.07,147.84 219.04,144.81 222.01,145.78 224.98,140.55 227.95,144.08 230.92,146.99 233.89,147.84 236.86,142.98 239.83,145.05 242.80,141.40 245.77,138.97 248.74,138.49 251.71,146.02 254.68,138.97 257.65,143.35 260.62,146.63 263.59,147.24 266.56,148.21 269.53,140.19 272.50,142.98" fill="none" stroke="#ff0000" stroke-width="1.15" stroke-linejoin="round"/>
<circle cx="183.40" cy="145.78" r="1.25" fill="#fff" fill-opacity="0.7" stroke="#ff0000" stroke-width="0.8"/>
<circle cx="186.37" cy="146.63" r="1.25" fill="#fff" fill-opacity="0.7" stroke="#ff0000" stroke-width="0.8"/>
<circle cx="189.34" cy="148.45" r="1.25" fill="#fff" fill-opacity="0.7" stroke="#ff0000" stroke-width="0.8"/>
<circle cx="192.31" cy="144.20" r="1.25" fill="#fff" fill-opacity="0.7" stroke="#ff0000" stroke-width="0.8"/>
<circle cx="195.28" cy="145.05" r="1.25" fill="#fff" fill-opacity="0.7" stroke="#ff0000" stroke-width="0.8"/>
<circle cx="198.25" cy="135.09" r="1.25" fill="#fff" fill-opacity="0.7" stroke="#ff0000" stroke-width="0.8"/>
<circle cx="201.22" cy="130.23" r="1.25" fill="#fff" fill-opacity="0.7" stroke="#ff0000" stroke-width="0.8"/>
<circle cx="204.19" cy="134.48" r="1.25" fill="#fff" fill-opacity="0.7" stroke="#ff0000" stroke-width="0.8"/>
<circle cx="207.16" cy="144.56" r="1.25" fill="#fff" fill-opacity="0.7" stroke="#ff0000" stroke-width="0.8"/>
<circle cx="210.13" cy="142.38" r="1.25" fill="#fff" fill-opacity="0.7" stroke="#ff0000" stroke-width="0.8"/>
<circle cx="213.10" cy="139.70" r="1.25" fill="#fff" fill-opacity="0.7" stroke="#ff0000" stroke-width="0.8"/>
<circle cx="216.07" cy="147.84" r="1.25" fill="#fff" fill-opacity="0.7" stroke="#ff0000" stroke-width="0.8"/>
<circle cx="219.04" cy="144.81" r="1.25" fill="#fff" fill-opacity="0.7" stroke="#ff0000" stroke-width="0.8"/>
<circle cx="222.01" cy="145.78" r="1.25" fill="#fff" fill-opacity="0.7" stroke="#ff0000" stroke-width="0.8"/>
<circle cx="224.98" cy="140.55" r="1.25" fill="#fff" fill-opacity="0.7" stroke="#ff0000" stroke-width="0.8"/>
<circle cx="227.95" cy="144.08" r="1.25" fill="#fff" fill-opacity="0.7" stroke="#ff0000" stroke-width="0.8"/>
<circle cx="230.92" cy="146.99" r="1.25" fill="#fff" fill-opacity="0.7" stroke="#ff0000" stroke-width="0.8"/>
<circle cx="233.89" cy="147.84" r="1.25" fill="#fff" fill-opacity="0.7" stroke="#ff0000" stroke-width="0.8"/>
<circle cx="236.86" cy="142.98" r="1.25" fill="#fff" fill-opacity="0.7" stroke="#ff0000" stroke-width="0.8"/>
<circle cx="239.83" cy="145.05" r="1.25" fill="#fff" fill-opacity="0.7" stroke="#ff0000" stroke-width="0.8"/>
<circle cx="242.80" cy="141.40" r="1.25" fill="#fff" fill-opacity="0.7" stroke="#ff0000" stroke-width="0.8"/>
<circle cx="245.77" cy="138.97" r="1.25" fill="#fff" fill-opacity="0.7" stroke="#ff0000" stroke-width="0.8"/>
<circle cx="248.74" cy="138.49" r="1.25" fill="#fff" fill-opacity="0.7" stroke="#ff0000" stroke-width="0.8"/>
<circle cx="251.71" cy="146.02" r="1.25" fill="#fff" fill-opacity="0.7" stroke="#ff0000" stroke-width="0.8"/>
<circle cx="254.68" cy="138.97" r="1.25" fill="#fff" fill-opacity="0.7" stroke="#ff0000" stroke-width="0.8"/>
<circle cx="257.65" cy="143.35" r="1.25" fill="#fff" fill-opacity="0.7" stroke="#ff0000" stroke-width="0.8"/>
<circle cx="260.62" cy="146.63" r="1.25" fill="#fff" fill-opacity="0.7" stroke="#ff0000" stroke-width="0.8"/>
<circle cx="263.59" cy="147.24" r="1.25" fill="#fff" fill-opacity="0.7" stroke="#ff0000" stroke-width="0.8"/>
<circle cx="266.56" cy="148.21" r="1.25" fill="#fff" fill-opacity="0.7" stroke="#ff0000" stroke-width="0.8"/>
<circle cx="269.53" cy="140.19" r="1.25" fill="#fff" fill-opacity="0.7" stroke="#ff0000" stroke-width="0.8"/>
<circle cx="272.50" cy="142.98" r="1.25" fill="#fff" fill-opacity="0.7" stroke="#ff0000" stroke-width="0.8"/>
</g>
<rect x="183.40" y="119.00" width="89.10" height="33.40" fill="none" stroke="#000" stroke-width="1.1"/>
<path d="M183.40,152.40v-2.0M183.40,119.00v2.0M205.68,152.40v-2.0M205.68,119.00v2.0M227.95,152.40v-2.0M227.95,119.00v2.0M250.22,152.40v-2.0M250.22,119.00v2.0M272.50,152.40v-2.0M272.50,119.00v2.0M183.40,148.14h2.0M272.50,148.14h-2.0M183.40,140.86h2.0M272.50,140.86h-2.0M183.40,133.57h2.0M272.50,133.57h-2.0M183.40,126.29h2.0M272.50,126.29h-2.0M183.40,119.00h2.0M272.50,119.00h-2.0" stroke="#000" stroke-width="0.8" fill="none"/>
<text transform="translate(180.00,150.74) scale(1,1.12)" font-size="8.0" text-anchor="end">0</text>
<text transform="translate(180.00,136.17) scale(1,1.12)" font-size="8.0" text-anchor="end">0.5</text>
<text transform="translate(180.00,121.60) scale(1,1.12)" font-size="8.0" text-anchor="end">1</text>
<text transform="translate(183.40,162.8) scale(1,1.1)" font-size="8.0" text-anchor="middle">0</text>
<text transform="translate(227.95,162.8) scale(1,1.1)" font-size="8.0" text-anchor="middle">15</text>
<text transform="translate(272.50,162.8) scale(1,1.1)" font-size="8.0" text-anchor="middle">30</text>
<clipPath id="c22"><rect x="288.80" y="117.70" width="92.50" height="36.20"/></clipPath>
<g clip-path="url(#c22)">
<polyline points="290.40,140.92 293.38,140.55 296.35,140.55 299.33,136.06 302.31,140.55 305.28,143.59 308.26,134.48 311.24,140.19 314.21,144.20 317.19,141.77 320.17,138.12 323.14,134.84 326.12,140.92 329.10,140.55 332.07,131.20 335.05,129.38 338.03,136.91 341.00,137.52 343.98,136.91 346.96,138.73 349.93,146.99 352.91,144.20 355.89,140.55 358.86,145.41 361.84,134.84 364.82,137.76 367.79,144.20 370.77,147.24 373.75,144.56 376.72,137.27 379.70,140.19" fill="none" stroke="#000000" stroke-width="1.15" stroke-linejoin="round"/>
<circle cx="290.40" cy="140.92" r="1.15" fill="#fff" fill-opacity="0.55" stroke="#000000" stroke-width="0.8"/>
<circle cx="293.38" cy="140.55" r="1.15" fill="#fff" fill-opacity="0.55" stroke="#000000" stroke-width="0.8"/>
<circle cx="296.35" cy="140.55" r="1.15" fill="#fff" fill-opacity="0.55" stroke="#000000" stroke-width="0.8"/>
<circle cx="299.33" cy="136.06" r="1.15" fill="#fff" fill-opacity="0.55" stroke="#000000" stroke-width="0.8"/>
<circle cx="302.31" cy="140.55" r="1.15" fill="#fff" fill-opacity="0.55" stroke="#000000" stroke-width="0.8"/>
<circle cx="305.28" cy="143.59" r="1.15" fill="#fff" fill-opacity="0.55" stroke="#000000" stroke-width="0.8"/>
<circle cx="308.26" cy="134.48" r="1.15" fill="#fff" fill-opacity="0.55" stroke="#000000" stroke-width="0.8"/>
<circle cx="311.24" cy="140.19" r="1.15" fill="#fff" fill-opacity="0.55" stroke="#000000" stroke-width="0.8"/>
<circle cx="314.21" cy="144.20" r="1.15" fill="#fff" fill-opacity="0.55" stroke="#000000" stroke-width="0.8"/>
<circle cx="317.19" cy="141.77" r="1.15" fill="#fff" fill-opacity="0.55" stroke="#000000" stroke-width="0.8"/>
<circle cx="320.17" cy="138.12" r="1.15" fill="#fff" fill-opacity="0.55" stroke="#000000" stroke-width="0.8"/>
<circle cx="323.14" cy="134.84" r="1.15" fill="#fff" fill-opacity="0.55" stroke="#000000" stroke-width="0.8"/>
<circle cx="326.12" cy="140.92" r="1.15" fill="#fff" fill-opacity="0.55" stroke="#000000" stroke-width="0.8"/>
<circle cx="329.10" cy="140.55" r="1.15" fill="#fff" fill-opacity="0.55" stroke="#000000" stroke-width="0.8"/>
<circle cx="332.07" cy="131.20" r="1.15" fill="#fff" fill-opacity="0.55" stroke="#000000" stroke-width="0.8"/>
<circle cx="335.05" cy="129.38" r="1.15" fill="#fff" fill-opacity="0.55" stroke="#000000" stroke-width="0.8"/>
<circle cx="338.03" cy="136.91" r="1.15" fill="#fff" fill-opacity="0.55" stroke="#000000" stroke-width="0.8"/>
<circle cx="341.00" cy="137.52" r="1.15" fill="#fff" fill-opacity="0.55" stroke="#000000" stroke-width="0.8"/>
<circle cx="343.98" cy="136.91" r="1.15" fill="#fff" fill-opacity="0.55" stroke="#000000" stroke-width="0.8"/>
<circle cx="346.96" cy="138.73" r="1.15" fill="#fff" fill-opacity="0.55" stroke="#000000" stroke-width="0.8"/>
<circle cx="349.93" cy="146.99" r="1.15" fill="#fff" fill-opacity="0.55" stroke="#000000" stroke-width="0.8"/>
<circle cx="352.91" cy="144.20" r="1.15" fill="#fff" fill-opacity="0.55" stroke="#000000" stroke-width="0.8"/>
<circle cx="355.89" cy="140.55" r="1.15" fill="#fff" fill-opacity="0.55" stroke="#000000" stroke-width="0.8"/>
<circle cx="358.86" cy="145.41" r="1.15" fill="#fff" fill-opacity="0.55" stroke="#000000" stroke-width="0.8"/>
<circle cx="361.84" cy="134.84" r="1.15" fill="#fff" fill-opacity="0.55" stroke="#000000" stroke-width="0.8"/>
<circle cx="364.82" cy="137.76" r="1.15" fill="#fff" fill-opacity="0.55" stroke="#000000" stroke-width="0.8"/>
<circle cx="367.79" cy="144.20" r="1.15" fill="#fff" fill-opacity="0.55" stroke="#000000" stroke-width="0.8"/>
<circle cx="370.77" cy="147.24" r="1.15" fill="#fff" fill-opacity="0.55" stroke="#000000" stroke-width="0.8"/>
<circle cx="373.75" cy="144.56" r="1.15" fill="#fff" fill-opacity="0.55" stroke="#000000" stroke-width="0.8"/>
<circle cx="376.72" cy="137.27" r="1.15" fill="#fff" fill-opacity="0.55" stroke="#000000" stroke-width="0.8"/>
<circle cx="379.70" cy="140.19" r="1.15" fill="#fff" fill-opacity="0.55" stroke="#000000" stroke-width="0.8"/>
</g>
<rect x="290.40" y="119.00" width="89.30" height="33.40" fill="none" stroke="#000" stroke-width="1.1"/>
<path d="M290.40,152.40v-2.0M290.40,119.00v2.0M312.72,152.40v-2.0M312.72,119.00v2.0M335.05,152.40v-2.0M335.05,119.00v2.0M357.38,152.40v-2.0M357.38,119.00v2.0M379.70,152.40v-2.0M379.70,119.00v2.0M290.40,148.14h2.0M379.70,148.14h-2.0M290.40,140.86h2.0M379.70,140.86h-2.0M290.40,133.57h2.0M379.70,133.57h-2.0M290.40,126.29h2.0M379.70,126.29h-2.0M290.40,119.00h2.0M379.70,119.00h-2.0" stroke="#000" stroke-width="0.8" fill="none"/>
<text transform="translate(287.00,150.74) scale(1,1.12)" font-size="8.0" text-anchor="end">0</text>
<text transform="translate(287.00,136.17) scale(1,1.12)" font-size="8.0" text-anchor="end">0.5</text>
<text transform="translate(287.00,121.60) scale(1,1.12)" font-size="8.0" text-anchor="end">1</text>
<text transform="translate(290.40,162.8) scale(1,1.1)" font-size="8.0" text-anchor="middle">0</text>
<text transform="translate(335.05,162.8) scale(1,1.1)" font-size="8.0" text-anchor="middle">15</text>
<text transform="translate(379.70,162.8) scale(1,1.1)" font-size="8.0" text-anchor="middle">30</text>
<text transform="translate(24.7,36.4) scale(1,1.08)" font-size="15">A</text>
<text transform="translate(102.8,30.8) scale(1,1.08)" font-size="13.2">T&lt;T<tspan font-size="9.4" dy="4.9">c</tspan></text>
<text transform="translate(223.5,30.1) scale(1,1.08)" font-size="13.2">T<tspan font-size="9.4" dy="5.2">c</tspan></text>
<text transform="translate(322.3,33.1) scale(1,1.08)" font-size="13.2">Exp.</text>
<text x="228.8" y="174.0" font-size="11.0" text-anchor="middle">Time (T.R.)</text>
<text transform="translate(57.9,90.2) rotate(-90)" font-size="13.2" text-anchor="middle">&lt;C&gt;</text>
<text x="384.9" y="59.8" font-size="10.6">N=5</text>
<text x="384.2" y="98.0" font-size="10.6">N=38</text>
<text x="383.0" y="137.7" font-size="10.6">N=95</text>
<text transform="translate(25.5,196.0) scale(1,1.08)" font-size="15">B</text>
<rect x="76.6" y="190.9" width="128.50" height="152.20" fill="none" stroke="#111" stroke-width="1.0"/>
<path d="M76.81,343.1v-3.7M76.81,190.9v3.7M84.70,343.1v-3.7M84.70,190.9v3.7M91.14,343.1v-3.7M91.14,190.9v3.7M96.59,343.1v-3.7M96.59,190.9v3.7M101.31,343.1v-3.7M101.31,190.9v3.7M105.48,343.1v-3.7M105.48,190.9v3.7M109.20,343.1v-5.6M109.20,190.9v5.6M133.70,343.1v-3.7M133.70,190.9v3.7M148.04,343.1v-3.7M148.04,190.9v3.7M158.21,343.1v-3.7M158.21,190.9v3.7M166.10,343.1v-3.7M166.10,190.9v3.7M172.54,343.1v-3.7M172.54,190.9v3.7M177.99,343.1v-3.7M177.99,190.9v3.7M182.71,343.1v-3.7M182.71,190.9v3.7M186.88,343.1v-3.7M186.88,190.9v3.7M190.60,343.1v-5.6M190.60,190.9v5.6M76.6,320.19h1.5M205.1,320.19h-1.5M76.6,306.79h1.5M205.1,306.79h-1.5M76.6,297.28h1.5M205.1,297.28h-1.5M76.6,289.91h1.5M205.1,289.91h-1.5M76.6,283.88h1.5M205.1,283.88h-1.5M76.6,278.79h1.5M205.1,278.79h-1.5M76.6,274.37h1.5M205.1,274.37h-1.5M76.6,270.48h1.5M205.1,270.48h-1.5M76.6,267.00h3.1M205.1,267.00h-3.1M76.6,244.09h1.5M205.1,244.09h-1.5M76.6,230.69h1.5M205.1,230.69h-1.5M76.6,221.18h1.5M205.1,221.18h-1.5M76.6,213.81h1.5M205.1,213.81h-1.5M76.6,207.78h1.5M205.1,207.78h-1.5M76.6,202.69h1.5M205.1,202.69h-1.5M76.6,198.27h1.5M205.1,198.27h-1.5M76.6,194.38h1.5M205.1,194.38h-1.5" stroke="#000" stroke-width="0.85" fill="none"/>
<path d="M84.4,244.6L190.5,337.5" stroke="#0000ff" stroke-width="1.15" stroke-dasharray="8.5,3.5" stroke-dashoffset="5" fill="none"/>
<path d="M84.5,228.7L193.1,261.6" stroke="#ff0000" stroke-width="1.1" stroke-dasharray="8.5,3.5" stroke-dashoffset="5" fill="none"/>
<path d="M84.5,238.8L193.1,251.3" stroke="#000" stroke-width="1.1" stroke-dasharray="8.5,3.5" stroke-dashoffset="5" fill="none"/>
<circle cx="84.5" cy="236.3" r="4.0" fill="none" stroke="#000" stroke-width="1.25"/>
<circle cx="96.3" cy="239.1" r="4.0" fill="none" stroke="#000" stroke-width="1.25"/>
<circle cx="96.3" cy="240.5" r="4.0" fill="none" stroke="#000" stroke-width="1.25"/>
<circle cx="108.6" cy="242.6" r="4.0" fill="none" stroke="#000" stroke-width="1.25"/>
<circle cx="117.5" cy="241.9" r="4.0" fill="none" stroke="#000" stroke-width="1.25"/>
<circle cx="125.6" cy="244" r="4.0" fill="none" stroke="#000" stroke-width="1.25"/>
<circle cx="138.6" cy="247.6" r="4.0" fill="none" stroke="#000" stroke-width="1.25"/>
<circle cx="147" cy="245.5" r="4.0" fill="none" stroke="#000" stroke-width="1.25"/>
<circle cx="156.3" cy="247.5" r="4.0" fill="none" stroke="#000" stroke-width="1.25"/>
<circle cx="169" cy="249.7" r="4.0" fill="none" stroke="#000" stroke-width="1.25"/>
<circle cx="178.2" cy="246.9" r="4.0" fill="none" stroke="#000" stroke-width="1.25"/>
<circle cx="188.8" cy="248.7" r="4.0" fill="none" stroke="#000" stroke-width="1.25"/>
<circle cx="193.1" cy="253.5" r="4.0" fill="none" stroke="#000" stroke-width="1.25"/>
<circle cx="84.5" cy="244.6" r="4.0" fill="none" stroke="#0000ff" stroke-width="1.25"/>
<circle cx="96.2" cy="256.6" r="4.0" fill="none" stroke="#0000ff" stroke-width="1.25"/>
<circle cx="109" cy="265.6" r="4.0" fill="none" stroke="#0000ff" stroke-width="1.25"/>
<circle cx="112.5" cy="264.4" r="4.0" fill="none" stroke="#0000ff" stroke-width="1.25"/>
<circle cx="118.4" cy="277.4" r="4.0" fill="none" stroke="#0000ff" stroke-width="1.25"/>
<circle cx="125.9" cy="285.2" r="4.0" fill="none" stroke="#0000ff" stroke-width="1.25"/>
<circle cx="138.9" cy="282.6" r="4.0" fill="none" stroke="#0000ff" stroke-width="1.25"/>
<circle cx="138.4" cy="295" r="4.0" fill="none" stroke="#0000ff" stroke-width="1.25"/>
<circle cx="140" cy="295.5" r="4.0" fill="none" stroke="#0000ff" stroke-width="1.25"/>
<circle cx="143.6" cy="293.4" r="4.0" fill="none" stroke="#0000ff" stroke-width="1.25"/>
<circle cx="147.1" cy="295" r="4.0" fill="none" stroke="#0000ff" stroke-width="1.25"/>
<circle cx="155.4" cy="311.1" r="4.0" fill="none" stroke="#0000ff" stroke-width="1.25"/>
<circle cx="156.5" cy="311.1" r="4.0" fill="none" stroke="#0000ff" stroke-width="1.25"/>
<circle cx="169" cy="317.9" r="4.0" fill="none" stroke="#0000ff" stroke-width="1.25"/>
<circle cx="174.2" cy="322.6" r="4.0" fill="none" stroke="#0000ff" stroke-width="1.25"/>
<circle cx="178.2" cy="323.8" r="4.0" fill="none" stroke="#0000ff" stroke-width="1.25"/>
<circle cx="179.6" cy="326.1" r="4.0" fill="none" stroke="#0000ff" stroke-width="1.25"/>
<circle cx="193.1" cy="335.6" r="4.0" fill="none" stroke="#0000ff" stroke-width="1.25"/>
<circle cx="84.5" cy="229.2" r="4.0" fill="none" stroke="#ff0000" stroke-width="1.25"/>
<circle cx="84.5" cy="232.7" r="4.0" fill="none" stroke="#ff0000" stroke-width="1.25"/>
<circle cx="96.3" cy="231.3" r="4.0" fill="none" stroke="#ff0000" stroke-width="1.25"/>
<circle cx="96.3" cy="244.5" r="4.0" fill="none" stroke="#ff0000" stroke-width="1.25"/>
<circle cx="109" cy="238.4" r="4.0" fill="none" stroke="#ff0000" stroke-width="1.25"/>
<circle cx="112.6" cy="236.3" r="4.0" fill="none" stroke="#ff0000" stroke-width="1.25"/>
<circle cx="118.2" cy="237.4" r="4.0" fill="none" stroke="#ff0000" stroke-width="1.25"/>
<circle cx="125.6" cy="236.7" r="4.0" fill="none" stroke="#ff0000" stroke-width="1.25"/>
<circle cx="137.8" cy="240.5" r="4.0" fill="none" stroke="#ff0000" stroke-width="1.25"/>
<circle cx="140" cy="241.9" r="4.0" fill="none" stroke="#ff0000" stroke-width="1.25"/>
<circle cx="142.8" cy="244" r="4.0" fill="none" stroke="#ff0000" stroke-width="1.25"/>
<circle cx="144.3" cy="249" r="4.0" fill="none" stroke="#ff0000" stroke-width="1.25"/>
<circle cx="156.3" cy="242.6" r="4.0" fill="none" stroke="#ff0000" stroke-width="1.25"/>
<circle cx="154.8" cy="249" r="4.0" fill="none" stroke="#ff0000" stroke-width="1.25"/>
<circle cx="169" cy="254.7" r="4.0" fill="none" stroke="#ff0000" stroke-width="1.25"/>
<circle cx="178.9" cy="252.6" r="4.0" fill="none" stroke="#ff0000" stroke-width="1.25"/>
<circle cx="177.5" cy="258.9" r="4.0" fill="none" stroke="#ff0000" stroke-width="1.25"/>
<circle cx="174.4" cy="263.9" r="4.0" fill="none" stroke="#ff0000" stroke-width="1.25"/>
<circle cx="188.8" cy="258.9" r="4.0" fill="none" stroke="#ff0000" stroke-width="1.25"/>
<circle cx="193.1" cy="263.9" r="4.0" fill="none" stroke="#ff0000" stroke-width="1.25"/>
<path d="M84.6,208.1V218.7" stroke="#000" stroke-width="1.3" fill="none"/>
<path d="M81.5,216.7L84.6,222.7L87.69999999999999,216.7Z" fill="#000"/>
<path d="M156.3,221.0V233.7" stroke="#000" stroke-width="1.3" fill="none"/>
<path d="M153.20000000000002,231.7L156.3,237.7L159.4,231.7Z" fill="#000"/>
<path d="M188.8,227.0V239.3" stroke="#000" stroke-width="1.3" fill="none"/>
<path d="M185.70000000000002,237.3L188.8,243.3L191.9,237.3Z" fill="#000"/>
<text x="57.4" y="196.2" font-size="10.4">10<tspan font-size="7.6" dy="-6.0">0</tspan></text>
<text x="56.2" y="272.7" font-size="10.4">10<tspan font-size="7.6" dy="-6.0">-1</tspan></text>
<text x="55.2" y="349.7" font-size="10.4">10<tspan font-size="7.6" dy="-6.0">-2</tspan></text>
<text x="102.3" y="359.8" font-size="10.4">10<tspan font-size="7.6" dy="-6.0">1</tspan></text>
<text x="183.2" y="359.8" font-size="10.4">10<tspan font-size="7.6" dy="-6.0">2</tspan></text>
<text x="141.2" y="371.8" font-size="10.6" text-anchor="middle">Size (N)</text>
<text transform="translate(234.2,196.7) scale(1,1.08)" font-size="15">C</text>
<polyline points="274.2,245.5 278.6,248.1 282.8,252 287.2,257.3 291.3,263.3 295.7,270.9 299.9,279.5 304.2,287.9 308.5,295.7 312.8,303.8 317.2,310.1 321.4,316.2 325.7,319.3 329.9,322.7 333.9,325.3 338.5,320.1 342.8,309.6 347.1,298.2 351.4,289.2 355.8,279.5 360.1,268.2 364.4,254.3 368.7,236.8 372.8,224.2 377.1,215.3 381.3,209.2 385.7,207.0 390.1,208.3 394.5,209.5 398.9,210.2" fill="none" stroke="#000" stroke-width="0.7"/>
<circle cx="274.2" cy="245.5" r="3.6" fill="#fff" stroke="#000" stroke-width="0.8"/>
<circle cx="278.6" cy="248.1" r="3.6" fill="#fff" stroke="#000" stroke-width="0.8"/>
<circle cx="282.8" cy="252" r="3.6" fill="#fff" stroke="#000" stroke-width="0.8"/>
<ellipse cx="287.2" cy="257.3" rx="4.3" ry="3.6" fill="#0000ff" stroke="#000" stroke-width="0.6"/>
<circle cx="291.3" cy="263.3" r="3.6" fill="#fff" stroke="#000" stroke-width="0.8"/>
<circle cx="295.7" cy="270.9" r="3.6" fill="#fff" stroke="#000" stroke-width="0.8"/>
<circle cx="299.9" cy="279.5" r="3.6" fill="#fff" stroke="#000" stroke-width="0.8"/>
<circle cx="304.2" cy="287.9" r="3.6" fill="#fff" stroke="#000" stroke-width="0.8"/>
<circle cx="308.5" cy="295.7" r="3.6" fill="#fff" stroke="#000" stroke-width="0.8"/>
<circle cx="312.8" cy="303.8" r="3.6" fill="#fff" stroke="#000" stroke-width="0.8"/>
<circle cx="317.2" cy="310.1" r="3.6" fill="#fff" stroke="#000" stroke-width="0.8"/>
<circle cx="321.4" cy="316.2" r="3.6" fill="#fff" stroke="#000" stroke-width="0.8"/>
<circle cx="325.7" cy="319.3" r="3.6" fill="#fff" stroke="#000" stroke-width="0.8"/>
<circle cx="329.9" cy="322.7" r="3.6" fill="#fff" stroke="#000" stroke-width="0.8"/>
<ellipse cx="333.9" cy="325.3" rx="4.4" ry="3.8" fill="#ff0000" stroke="#a00000" stroke-width="0.5"/>
<circle cx="338.5" cy="320.1" r="3.6" fill="#fff" stroke="#000" stroke-width="0.8"/>
<circle cx="342.8" cy="309.6" r="3.6" fill="#fff" stroke="#000" stroke-width="0.8"/>
<circle cx="347.1" cy="298.2" r="3.6" fill="#fff" stroke="#000" stroke-width="0.8"/>
<circle cx="351.4" cy="289.2" r="3.6" fill="#fff" stroke="#000" stroke-width="0.8"/>
<circle cx="355.8" cy="279.5" r="3.6" fill="#fff" stroke="#000" stroke-width="0.8"/>
<circle cx="360.1" cy="268.2" r="3.6" fill="#fff" stroke="#000" stroke-width="0.8"/>
<circle cx="364.4" cy="254.3" r="3.6" fill="#fff" stroke="#000" stroke-width="0.8"/>
<circle cx="368.7" cy="236.8" r="3.6" fill="#fff" stroke="#000" stroke-width="0.8"/>
<circle cx="372.8" cy="224.2" r="3.6" fill="#fff" stroke="#000" stroke-width="0.8"/>
<circle cx="377.1" cy="215.3" r="3.6" fill="#fff" stroke="#000" stroke-width="0.8"/>
<circle cx="381.3" cy="209.2" r="3.6" fill="#fff" stroke="#000" stroke-width="0.8"/>
<circle cx="385.7" cy="207.0" r="3.6" fill="#fff" stroke="#000" stroke-width="0.8"/>
<circle cx="390.1" cy="208.3" r="3.6" fill="#fff" stroke="#000" stroke-width="0.8"/>
<circle cx="394.5" cy="209.5" r="3.6" fill="#fff" stroke="#000" stroke-width="0.8"/>
<circle cx="398.9" cy="210.2" r="3.6" fill="#fff" stroke="#000" stroke-width="0.8"/>
<rect x="269.7" y="190.9" width="128.80" height="152.40" fill="none" stroke="#111" stroke-width="1.0"/>
<path d="M269.70,343.3v-3.2M269.70,190.9v3.2M296.60,343.3v-3.2M296.60,190.9v3.2M323.50,343.3v-3.2M323.50,190.9v3.2M350.40,343.3v-3.2M350.40,190.9v3.2M377.30,343.3v-3.2M377.30,190.9v3.2M269.7,321.3h3.2M398.5,321.3h-3.2M269.7,277.8h3.2M398.5,277.8h-3.2M269.7,234.3h3.2M398.5,234.3h-3.2" stroke="#000" stroke-width="0.7" fill="none"/>
<text x="266.2" y="195.3" font-size="10.4" text-anchor="end">0.2</text>
<text x="266.2" y="238.7" font-size="10.4" text-anchor="end">0.15</text>
<text x="266.2" y="282.2" font-size="10.4" text-anchor="end">0.1</text>
<text x="266.2" y="325.7" font-size="10.4" text-anchor="end">0.05</text>
<text x="269.9" y="355.0" font-size="10.4" text-anchor="middle">0</text>
<text x="323.5" y="355.0" font-size="10.4" text-anchor="middle">0.05</text>
<text x="377.6" y="355.0" font-size="10.4" text-anchor="middle">0.1</text>
<text x="335.2" y="367.1" font-size="10.4" text-anchor="middle">Threshold</text>
<text x="338.3" y="334.9" font-size="8.3" fill="#333">T<tspan font-size="5.8" dy="2.6">C</tspan><tspan dy="-2.6"> ~ 0.05</tspan></text>
</svg>
</body></html>
